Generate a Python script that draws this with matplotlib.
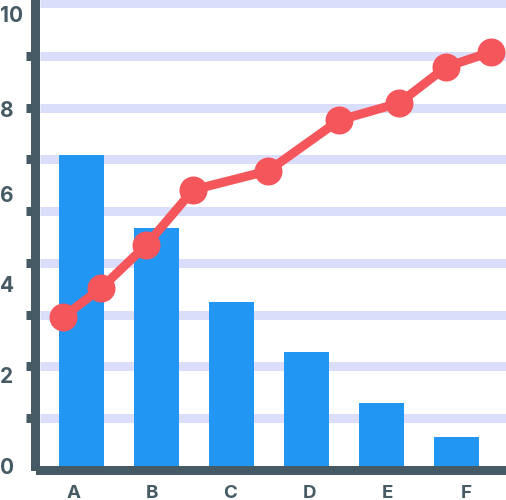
import matplotlib
matplotlib.use('Agg')
import matplotlib.pyplot as plt

categories = ['A', 'B', 'C', 'D', 'E', 'F']
bar_values = [6.88, 5.27, 3.63, 2.52, 1.39, 0.64]
line_x = [-0.24, 0.267, 0.867, 1.493, 2.493, 3.44, 4.24, 4.867, 5.467]
line_y = [3.30, 3.94, 4.89, 6.11, 6.53, 7.65, 8.03, 8.83, 9.16]
grid_values = [1.06, 2.21, 3.34, 4.49, 5.64, 6.8, 7.92, 9.07, 10.24]
tick_values = [1.06, 2.21, 3.34, 4.49, 5.64, 6.8, 7.92, 9.07]
y_labels = [0, 2, 4, 6, 8, 10]
y_label_pos = [-0.04, 1.97, 3.99, 5.98, 7.87, 9.96]
label_x = [-0.107, 0.947, 1.987, 3.04, 4.08, 5.13]

dark = '#455a64'
px = 72 / 100

plt.rcParams['font.family'] = ['Inter', 'DejaVu Sans']

fig = plt.figure(figsize=(5.065, 5.005), dpi=100)
ax = fig.add_axes([39.8 / 506.5, 34.03 / 500.5, 467 / 506.5, 466 / 500.5])

ax.hlines(grid_values, -0.555, 5.675, color='#dadefa', linewidth=9 * px, zorder=1)
ax.bar(range(6), bar_values, width=0.6, color='#2196f3', zorder=2)
ax.plot(line_x, line_y, color='#f5565b', linewidth=9 * px, marker='o',
        markersize=28 * px, markeredgewidth=0, zorder=3, solid_capstyle='round')

ax.set_xlim(-0.555, 5.675)
ax.set_ylim(0, 10.31)

for side in ['top', 'right']:
    ax.spines[side].set_visible(False)
for side in ['left', 'bottom']:
    ax.spines[side].set_color(dark)
    ax.spines[side].set_linewidth(9 * px)
    ax.spines[side].set_position(('outward', 4.5 * px))

ax.set_yticks(tick_values)
ax.set_yticklabels([])
ax.tick_params(axis='y', length=9 * px, width=9 * px, color=dark)

ax.set_xticks(label_x)
ax.set_xticklabels(categories, fontsize=13.5, fontweight='bold', color=dark)
ax.tick_params(axis='x', length=0, pad=14 * px)

for v, pos in zip(y_labels, y_label_pos):
    ax.text(-40 / 466, pos, str(v), transform=ax.get_yaxis_transform(), ha='left', va='center',
            fontsize=15, fontweight='bold', color=dark, clip_on=False)

fig.savefig('out.png', dpi=100)
